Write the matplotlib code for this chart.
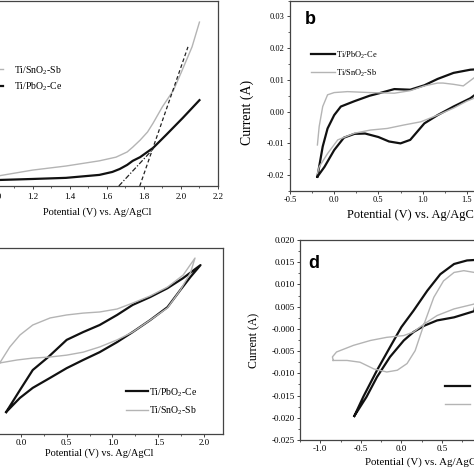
import matplotlib
matplotlib.use("Agg")
import matplotlib.pyplot as plt
from matplotlib.ticker import MultipleLocator, FormatStrFormatter

plt.rcParams['font.family'] = ['Liberation Serif', 'DejaVu Serif']
plt.rcParams['mathtext.fontset'] = 'custom'
plt.rcParams['mathtext.rm'] = 'Liberation Serif'
plt.rcParams['axes.unicode_minus'] = False

# ---- panel a: linear sweep (oxygen evolution) ----
va_sb = [1.0, 1.2, 1.38, 1.56, 1.65, 1.71, 1.74, 1.78, 1.82, 1.85, 1.90, 1.96, 2.0, 2.06, 2.10]
ia_sb = [0.0026, 0.0043, 0.0054, 0.0068, 0.0078, 0.0092, 0.0105, 0.0124, 0.0146, 0.0170, 0.0214, 0.0259, 0.0305, 0.0376, 0.0443]
va_pb = [1.0, 1.2, 1.38, 1.56, 1.63, 1.67, 1.71, 1.74, 1.78, 1.85, 1.92, 2.01, 2.10]
ia_pb = [0.0016, 0.0019, 0.0022, 0.0030, 0.0038, 0.0046, 0.0057, 0.0068, 0.0078, 0.0103, 0.0138, 0.0184, 0.0232]
tan_pb_v = [1.665, 1.85]
tan_pb_i = [0.0, 0.0100]
tan_sb_v = [1.778, 2.038]
tan_sb_i = [0.0, 0.0376]

# ---- panel b: CV ----
vb_pb = [-0.19, -0.13, -0.075, 0.0, 0.075, 0.23, 0.40, 0.51, 0.68, 0.86, 1.02, 1.17, 1.35, 1.54, 1.65, 1.70,
         1.54, 1.35, 1.17, 1.02, 0.86, 0.75, 0.62, 0.50, 0.35, 0.23, 0.11, 0.0, -0.11, -0.19]
ib_pb = [-0.0205, -0.011, -0.0053, -0.0011, 0.0016, 0.0033, 0.0050, 0.0058, 0.0071, 0.0069, 0.0083, 0.0103, 0.0122, 0.0132, 0.0134, 0.0075,
         0.0042, 0.0016, -0.0011, -0.0037, -0.0089, -0.0100, -0.0094, -0.0080, -0.0069, -0.0070, -0.0082, -0.0121, -0.0174, -0.0205]
vb_sb = [-0.19, -0.17, -0.13, -0.075, 0.0, 0.15, 0.41, 0.68, 0.86, 1.02, 1.17, 1.23, 1.35, 1.46, 1.58, 1.70,
         1.58, 1.50, 1.35, 1.17, 0.98, 0.79, 0.60, 0.41, 0.23, 0.04, -0.075, -0.17, -0.19]
ib_sb = [-0.0105, -0.0047, 0.0016, 0.0053, 0.0060, 0.0063, 0.0060, 0.0058, 0.0066, 0.0081, 0.0090, 0.0090, 0.0086, 0.0081, 0.0106, 0.0130,
         0.0042, 0.0033, 0.0011, -0.0011, -0.0032, -0.0042, -0.0053, -0.0058, -0.0068, -0.0089, -0.0132, -0.0174, -0.0195]

# ---- panel c: CV ----
vc_pb = [-0.16, -0.01, 0.13, 0.30, 0.50, 0.68, 0.86, 1.05, 1.22, 1.41, 1.60, 1.77, 1.96,
         1.85, 1.74, 1.60, 1.41, 1.22, 1.05, 0.86, 0.68, 0.50, 0.32, 0.13, -0.01, -0.16]
ic_pb = [-0.0141, -0.0082, -0.0028, 0.0007, 0.0053, 0.0074, 0.0093, 0.0120, 0.0147, 0.0168, 0.0192, 0.0219, 0.0254,
         0.0222, 0.0187, 0.0141, 0.0106, 0.0074, 0.0047, 0.0020, -0.0001, -0.0023, -0.0049, -0.0076, -0.0103, -0.0141]
vc_sb = [-0.23, -0.12, -0.01, 0.13, 0.32, 0.50, 0.68, 0.86, 1.05, 1.22, 1.41, 1.60, 1.77, 1.90,
         1.85, 1.74, 1.60, 1.41, 1.22, 1.05, 0.86, 0.68, 0.50, 0.32, 0.13, -0.04, -0.23]
ic_sb = [-0.0009, 0.0034, 0.0066, 0.0093, 0.0112, 0.0120, 0.0125, 0.0128, 0.0136, 0.0152, 0.0171, 0.0195, 0.0227, 0.0273,
         0.0233, 0.0187, 0.0139, 0.0106, 0.0074, 0.0053, 0.0034, 0.0020, 0.0012, 0.0007, 0.0004, -0.0001, -0.0009]

# ---- panel d: CV ----
vd_pb = [-0.58, -0.47, -0.30, -0.14, 0.0, 0.15, 0.32, 0.48, 0.65, 0.81, 0.90, 1.0,
         0.90, 0.65, 0.44, 0.28, 0.15, 0.03, -0.14, -0.30, -0.43, -0.58]
id_pb = [-0.0196, -0.0153, -0.0093, -0.0041, 0.0004, 0.0041, 0.0086, 0.0123, 0.0146, 0.0154, 0.0155, 0.0150,
         0.0040, 0.0026, 0.0019, 0.0007, -0.0007, -0.0026, -0.0063, -0.0108, -0.0153, -0.0196]
vd_sb = [-0.84, -0.67, -0.51, -0.34, -0.18, -0.05, 0.07, 0.17, 0.28, 0.40, 0.52, 0.65, 0.77, 0.90, 1.0,
         0.90, 0.65, 0.44, 0.28, 0.15, 0.03, -0.18, -0.38, -0.59, -0.80, -0.85, -0.84]
id_sb = [-0.0071, -0.0071, -0.0075, -0.0090, -0.0097, -0.0093, -0.0078, -0.0049, 0.0011, 0.0071, 0.0108, 0.0127, 0.0131, 0.0127, 0.0120,
         0.0056, 0.0045, 0.0030, 0.0011, -0.0007, -0.0015, -0.0019, -0.0026, -0.0037, -0.0052, -0.0063, -0.0071]

lab_pb = 'Ti/PbO$_\\mathregular{2}$-Ce'
lab_sb = 'Ti/SnO$_\\mathregular{2}$-Sb'
xlab = 'Potential (V) vs. Ag/AgCl'
BLACK = '#111111'
GRAY = '#b4b4b4'
SPINE = '#444444'

W = 474.0
fig = plt.figure(figsize=(4.74, 4.74), dpi=100)


def px_axes(left, top, right, bottom):
    return fig.add_axes([left / W, 1 - bottom / W, (right - left) / W, (bottom - top) / W])


def style(ax, xmaj, xmin, ymaj, ymin, xfmt, yfmt, fs=6.5):
    ax.xaxis.set_major_locator(MultipleLocator(xmaj))
    ax.xaxis.set_minor_locator(MultipleLocator(xmin))
    ax.yaxis.set_major_locator(MultipleLocator(ymaj))
    ax.yaxis.set_minor_locator(MultipleLocator(ymin))
    ax.xaxis.set_major_formatter(FormatStrFormatter(xfmt))
    ax.yaxis.set_major_formatter(FormatStrFormatter(yfmt))
    ax.tick_params(which='major', direction='out', length=2.4, width=0.7, pad=1.5, labelsize=fs, color=SPINE)
    ax.tick_params(which='minor', direction='out', length=1.4, width=0.6, color=SPINE)
    for s in ax.spines.values():
        s.set_color(SPINE)
        s.set_linewidth(0.9)


def legend_at(ax, x_px, y_px, fs, hl, htp, ls):
    ax.legend(loc='upper left', bbox_to_anchor=(x_px / W, 1 - y_px / W), bbox_transform=fig.transFigure,
              frameon=False, fontsize=fs, handlelength=hl, handletextpad=htp, labelspacing=ls, borderpad=0)


# panel a
axa = px_axes(-23, 1, 218, 186)
axa.plot(va_sb, ia_sb, color=GRAY, lw=1.0, label=lab_sb)
axa.plot(va_pb, ia_pb, color=BLACK, lw=1.6, label=lab_pb)
axa.plot(tan_pb_v, tan_pb_i, color='#222222', lw=0.9, ls=(0, (4, 1.5, 1, 1.5)))
axa.plot(tan_sb_v, tan_sb_i, color='#222222', lw=0.9, ls=(0, (3, 2)))
axa.set_xlim(0.9, 2.2)
axa.set_ylim(0, 0.05)
style(axa, 0.2, 0.1, 0.01, 0.005, '%.1f', '%.2f', fs=6.5)
axa.tick_params(axis='x', pad=2.5)
axa.set_xlabel(xlab, fontsize=7.5, labelpad=5)
legend_at(axa, -21, 59, 7, 2.0, 1.1, 0.35)

# panel b
axb = px_axes(290, 0.5, 511, 191)
axb.plot(vb_pb, ib_pb, color=BLACK, lw=1.6, label=lab_pb)
axb.plot(vb_sb, ib_sb, color=GRAY, lw=1.0, label=lab_sb)
axb.set_xlim(-0.5, 2.0)
axb.set_ylim(-0.025, 0.035)
style(axb, 0.5, 0.25, 0.01, 0.005, '%.1f', '%.2f', fs=6)
axb.set_xlabel(xlab, fontsize=9)
axb.xaxis.set_label_coords(0.552, -0.092)
axb.set_ylabel('Current (A)', fontsize=10)
axb.yaxis.set_label_coords(-0.163, 0.415)
axb.text(15 / 221, 1 - 19 / 190.5, 'b', transform=axb.transAxes, family='Liberation Sans',
         fontweight='bold', fontsize=13, va='center', ha='left')
legend_at(axb, 307, 45, 6, 2.9, 0.05, 0.8)

# panel c
axc = px_axes(-25, 248, 222.5, 434)
axc.plot(vc_pb, ic_pb, color=BLACK, lw=1.6, label=lab_pb)
axc.plot(vc_sb, ic_sb, color=GRAY, lw=1.0, label=lab_sb)
axc.set_xlim(-0.5, 2.2)
axc.set_ylim(-0.02, 0.03)
style(axc, 0.5, 0.25, 0.01, 0.005, '%.1f', '%.2f', fs=6.5)
axc.set_xlabel(xlab, fontsize=7.5, labelpad=1)
legend_at(axc, 121, 381, 7, 2.3, 0.1, 0.55)

# panel d
axd = px_axes(300, 240, 523, 440)
axd.plot(vd_pb, id_pb, color=BLACK, lw=1.6, label=lab_pb)
axd.plot(vd_sb, id_sb, color=GRAY, lw=1.0, label=lab_sb)
axd.set_xlim(-1.25, 1.5)
axd.set_ylim(-0.025, 0.020)
style(axd, 0.5, 0.25, 0.005, 0.0025, '%.1f', '%.3f', fs=6.5)
axd.set_xlabel(xlab, fontsize=7.8)
axd.xaxis.set_label_coords(0.547, -0.085)
axd.set_ylabel('Current (A)', fontsize=8.5)
axd.yaxis.set_label_coords(-0.179, 0.5)
axd.text(8 / 223, 1 - 24 / 200, 'd', transform=axd.transAxes, family='Liberation Sans',
         fontweight='bold', fontsize=13, va='center', ha='left')
legend_at(axd, 440, 376, 7, 2.6, 0.3, 0.45)

fig.savefig('out.png', dpi=100)
